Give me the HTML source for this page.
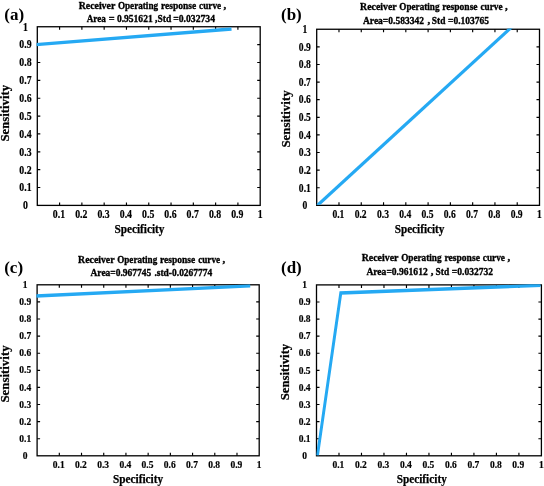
<!DOCTYPE html>
<html><head><meta charset="utf-8"><title>ROC curves</title>
<style>
html,body{margin:0;padding:0;background:#fff;}
body{width:544px;height:486px;overflow:hidden;position:relative;}
svg{position:absolute;left:0;top:0;display:block;}
text{font-family:"Liberation Serif","DejaVu Serif",serif;font-weight:bold;fill:#000;}
.tk{font-size:11.7px;text-anchor:middle;stroke:#000;stroke-width:0.2px;}
.ti{font-size:10.9px;stroke:#000;stroke-width:0.35px;}
.al{font-size:12.4px;stroke:#000;stroke-width:0.25px;}
.pl{font-size:17px;}
</style></head><body>
<svg width="544" height="486" viewBox="0 0 544 486">
<rect width="544" height="486" fill="#fff"/>

<g>
<clipPath id="ca"><rect x="36.6" y="27.35" width="223.6" height="178.05"/></clipPath>
<path d="M59.59 205.4v-3M59.59 26.75v3M37.3 187.53h3M260.2 187.53h-3M81.88 205.4v-3M81.88 26.75v3M37.3 169.67h3M260.2 169.67h-3M104.17 205.4v-3M104.17 26.75v3M37.3 151.81h3M260.2 151.81h-3M126.46 205.4v-3M126.46 26.75v3M37.3 133.94h3M260.2 133.94h-3M148.75 205.4v-3M148.75 26.75v3M37.3 116.08h3M260.2 116.08h-3M171.04 205.4v-3M171.04 26.75v3M37.3 98.21h3M260.2 98.21h-3M193.33 205.4v-3M193.33 26.75v3M37.3 80.35h3M260.2 80.35h-3M215.62 205.4v-3M215.62 26.75v3M37.3 62.48h3M260.2 62.48h-3M237.91 205.4v-3M237.91 26.75v3M37.3 44.61h3M260.2 44.61h-3" stroke="#000" stroke-width="1.15" fill="none"/>
<rect x="37.3" y="26.75" width="222.9" height="178.65" fill="none" stroke="#000" stroke-width="1.3"/>
<g clip-path="url(#ca)"><polyline transform="scale(0.87 1)" points="37.14,44.9 266.09,29" fill="none" stroke="#25a9f3" stroke-width="3.4" stroke-linejoin="miter"/></g>
<text class="tk" style="font-size:11.7px" transform="translate(25.45 209.25) scale(0.84 1)">0</text>
<text class="tk" style="font-size:11.7px" transform="translate(25.45 191.38) scale(0.84 1)">0.1</text>
<text class="tk" style="font-size:11.7px" transform="translate(25.45 173.52) scale(0.84 1)">0.2</text>
<text class="tk" style="font-size:11.7px" transform="translate(25.45 155.66) scale(0.84 1)">0.3</text>
<text class="tk" style="font-size:11.7px" transform="translate(25.45 137.79) scale(0.84 1)">0.4</text>
<text class="tk" style="font-size:11.7px" transform="translate(25.45 119.92) scale(0.84 1)">0.5</text>
<text class="tk" style="font-size:11.7px" transform="translate(25.45 102.06) scale(0.84 1)">0.6</text>
<text class="tk" style="font-size:11.7px" transform="translate(25.45 84.2) scale(0.84 1)">0.7</text>
<text class="tk" style="font-size:11.7px" transform="translate(25.45 66.33) scale(0.84 1)">0.8</text>
<text class="tk" style="font-size:11.7px" transform="translate(25.45 48.46) scale(0.84 1)">0.9</text>
<text class="tk" style="font-size:11.7px" transform="translate(25.45 30.6) scale(0.84 1)">1</text>
<text class="tk" style="font-size:11.7px" transform="translate(58.99 217.9) scale(0.84 1)">0.1</text>
<text class="tk" style="font-size:11.7px" transform="translate(81.28 217.9) scale(0.84 1)">0.2</text>
<text class="tk" style="font-size:11.7px" transform="translate(103.57 217.9) scale(0.84 1)">0.3</text>
<text class="tk" style="font-size:11.7px" transform="translate(125.86 217.9) scale(0.84 1)">0.4</text>
<text class="tk" style="font-size:11.7px" transform="translate(148.15 217.9) scale(0.84 1)">0.5</text>
<text class="tk" style="font-size:11.7px" transform="translate(170.44 217.9) scale(0.84 1)">0.6</text>
<text class="tk" style="font-size:11.7px" transform="translate(192.73 217.9) scale(0.84 1)">0.7</text>
<text class="tk" style="font-size:11.7px" transform="translate(215.02 217.9) scale(0.84 1)">0.8</text>
<text class="tk" style="font-size:11.7px" transform="translate(237.31 217.9) scale(0.84 1)">0.9</text>
<text class="tk" style="font-size:11.7px" transform="translate(260.1 217.9) scale(0.84 1)">1</text>
<text class="ti" y="8.65"><tspan x="78.7" textLength="36.4" lengthAdjust="spacingAndGlyphs">Receiver</tspan> <tspan x="117.9" textLength="40.2" lengthAdjust="spacingAndGlyphs">Operating</tspan> <tspan x="160.9" textLength="35.3" lengthAdjust="spacingAndGlyphs">response</tspan> <tspan x="199.1" textLength="22" lengthAdjust="spacingAndGlyphs">curve</tspan> <tspan x="223.6">,</tspan></text>
<text class="ti" y="21.5"><tspan x="86.7" textLength="19.2" lengthAdjust="spacingAndGlyphs">Area</tspan> <tspan x="108.7" textLength="5.9" lengthAdjust="spacingAndGlyphs">=</tspan> <tspan x="116.9" textLength="35.8" lengthAdjust="spacingAndGlyphs">0.951621</tspan> <tspan x="155" textLength="16.2" lengthAdjust="spacingAndGlyphs">,Std</tspan> <tspan x="173.2" textLength="41.8" lengthAdjust="spacingAndGlyphs">=0.032734</tspan></text>
<text class="pl" x="4.35" y="19.7">(a)</text>
<text class="al" x="114.4" y="233" textLength="50" lengthAdjust="spacingAndGlyphs">Specificity</text>
<text class="al" transform="translate(9.35 141.5) rotate(-90)" textLength="56.5" lengthAdjust="spacingAndGlyphs">Sensitivity</text>
</g>
<g>
<clipPath id="cb"><rect x="316.6" y="28.6" width="222.9" height="176.05"/></clipPath>
<path d="M338.98 205.35v-3M338.98 29.25v3M316.7 187.74h3M539.5 187.74h-3M361.26 205.35v-3M361.26 29.25v3M316.7 170.13h3M539.5 170.13h-3M383.54 205.35v-3M383.54 29.25v3M316.7 152.52h3M539.5 152.52h-3M405.82 205.35v-3M405.82 29.25v3M316.7 134.91h3M539.5 134.91h-3M428.1 205.35v-3M428.1 29.25v3M316.7 117.3h3M539.5 117.3h-3M450.38 205.35v-3M450.38 29.25v3M316.7 99.69h3M539.5 99.69h-3M472.66 205.35v-3M472.66 29.25v3M316.7 82.08h3M539.5 82.08h-3M494.94 205.35v-3M494.94 29.25v3M316.7 64.47h3M539.5 64.47h-3M517.22 205.35v-3M517.22 29.25v3M316.7 46.86h3M539.5 46.86h-3" stroke="#000" stroke-width="1.15" fill="none"/>
<rect x="316.7" y="29.25" width="222.8" height="176.1" fill="none" stroke="#000" stroke-width="1.3"/>
<g clip-path="url(#cb)"><polyline transform="scale(0.87 1)" points="360.71,208.73 589.64,25.87" fill="none" stroke="#25a9f3" stroke-width="3.4" stroke-linejoin="miter"/></g>
<text class="tk" style="font-size:11.5px" transform="translate(304.85 209.13) scale(0.835 1)">0</text>
<text class="tk" style="font-size:11.5px" transform="translate(304.85 191.52) scale(0.835 1)">0.1</text>
<text class="tk" style="font-size:11.5px" transform="translate(304.85 173.91) scale(0.835 1)">0.2</text>
<text class="tk" style="font-size:11.5px" transform="translate(304.85 156.3) scale(0.835 1)">0.3</text>
<text class="tk" style="font-size:11.5px" transform="translate(304.85 138.69) scale(0.835 1)">0.4</text>
<text class="tk" style="font-size:11.5px" transform="translate(304.85 121.08) scale(0.835 1)">0.5</text>
<text class="tk" style="font-size:11.5px" transform="translate(304.85 103.47) scale(0.835 1)">0.6</text>
<text class="tk" style="font-size:11.5px" transform="translate(304.85 85.86) scale(0.835 1)">0.7</text>
<text class="tk" style="font-size:11.5px" transform="translate(304.85 68.25) scale(0.835 1)">0.8</text>
<text class="tk" style="font-size:11.5px" transform="translate(304.85 50.64) scale(0.835 1)">0.9</text>
<text class="tk" style="font-size:11.5px" transform="translate(304.85 33.03) scale(0.835 1)">1</text>
<text class="tk" style="font-size:11.5px" transform="translate(338.38 217.85) scale(0.835 1)">0.1</text>
<text class="tk" style="font-size:11.5px" transform="translate(360.66 217.85) scale(0.835 1)">0.2</text>
<text class="tk" style="font-size:11.5px" transform="translate(382.94 217.85) scale(0.835 1)">0.3</text>
<text class="tk" style="font-size:11.5px" transform="translate(405.22 217.85) scale(0.835 1)">0.4</text>
<text class="tk" style="font-size:11.5px" transform="translate(427.5 217.85) scale(0.835 1)">0.5</text>
<text class="tk" style="font-size:11.5px" transform="translate(449.78 217.85) scale(0.835 1)">0.6</text>
<text class="tk" style="font-size:11.5px" transform="translate(472.06 217.85) scale(0.835 1)">0.7</text>
<text class="tk" style="font-size:11.5px" transform="translate(494.34 217.85) scale(0.835 1)">0.8</text>
<text class="tk" style="font-size:11.5px" transform="translate(516.62 217.85) scale(0.835 1)">0.9</text>
<text class="tk" style="font-size:11.5px" transform="translate(539.4 217.85) scale(0.835 1)">1</text>
<text class="ti" y="9.6"><tspan x="360.1" textLength="36.4" lengthAdjust="spacingAndGlyphs">Receiver</tspan> <tspan x="399.3" textLength="40.2" lengthAdjust="spacingAndGlyphs">Operating</tspan> <tspan x="442.3" textLength="35.3" lengthAdjust="spacingAndGlyphs">response</tspan> <tspan x="480.5" textLength="22" lengthAdjust="spacingAndGlyphs">curve</tspan> <tspan x="505">,</tspan></text>
<text class="ti" y="23.8"><tspan x="363" textLength="60.9" lengthAdjust="spacingAndGlyphs">Area=0.583342</tspan> <tspan x="427.6">,</tspan> <tspan x="431.8" textLength="13.6" lengthAdjust="spacingAndGlyphs">Std</tspan> <tspan x="448" textLength="41" lengthAdjust="spacingAndGlyphs">=0.103765</tspan></text>
<text class="pl" x="281" y="19.7">(b)</text>
<text class="al" x="394.7" y="233" textLength="49.7" lengthAdjust="spacingAndGlyphs">Specificity</text>
<text class="al" transform="translate(289.6 147.6) rotate(-90)" textLength="57.2" lengthAdjust="spacingAndGlyphs">Sensitivity</text>
</g>
<g>
<clipPath id="cc"><rect x="36.4" y="284.15" width="222.8" height="171.65"/></clipPath>
<path d="M59.31 455.8v-3M59.31 284.8v3M37.1 438.7h3M259.2 438.7h-3M81.52 455.8v-3M81.52 284.8v3M37.1 421.6h3M259.2 421.6h-3M103.73 455.8v-3M103.73 284.8v3M37.1 404.5h3M259.2 404.5h-3M125.94 455.8v-3M125.94 284.8v3M37.1 387.4h3M259.2 387.4h-3M148.15 455.8v-3M148.15 284.8v3M37.1 370.3h3M259.2 370.3h-3M170.36 455.8v-3M170.36 284.8v3M37.1 353.2h3M259.2 353.2h-3M192.57 455.8v-3M192.57 284.8v3M37.1 336.1h3M259.2 336.1h-3M214.78 455.8v-3M214.78 284.8v3M37.1 319h3M259.2 319h-3M236.99 455.8v-3M236.99 284.8v3M37.1 301.9h3M259.2 301.9h-3" stroke="#000" stroke-width="1.15" fill="none"/>
<rect x="37.1" y="284.8" width="222.1" height="171" fill="none" stroke="#000" stroke-width="1.3"/>
<g clip-path="url(#cc)"><polyline transform="scale(0.87 1)" points="36.9,296.13 287.59,285.9" fill="none" stroke="#25a9f3" stroke-width="3.4" stroke-linejoin="miter"/></g>
<text class="tk" style="font-size:11.2px" transform="translate(25.25 458.99) scale(0.85 1)">0</text>
<text class="tk" style="font-size:11.2px" transform="translate(25.25 441.89) scale(0.85 1)">0.1</text>
<text class="tk" style="font-size:11.2px" transform="translate(25.25 424.79) scale(0.85 1)">0.2</text>
<text class="tk" style="font-size:11.2px" transform="translate(25.25 407.69) scale(0.85 1)">0.3</text>
<text class="tk" style="font-size:11.2px" transform="translate(25.25 390.59) scale(0.85 1)">0.4</text>
<text class="tk" style="font-size:11.2px" transform="translate(25.25 373.49) scale(0.85 1)">0.5</text>
<text class="tk" style="font-size:11.2px" transform="translate(25.25 356.39) scale(0.85 1)">0.6</text>
<text class="tk" style="font-size:11.2px" transform="translate(25.25 339.29) scale(0.85 1)">0.7</text>
<text class="tk" style="font-size:11.2px" transform="translate(25.25 322.19) scale(0.85 1)">0.8</text>
<text class="tk" style="font-size:11.2px" transform="translate(25.25 305.09) scale(0.85 1)">0.9</text>
<text class="tk" style="font-size:11.2px" transform="translate(25.25 287.99) scale(0.85 1)">1</text>
<text class="tk" style="font-size:11.2px" transform="translate(58.71 467.7) scale(0.85 1)">0.1</text>
<text class="tk" style="font-size:11.2px" transform="translate(80.92 467.7) scale(0.85 1)">0.2</text>
<text class="tk" style="font-size:11.2px" transform="translate(103.13 467.7) scale(0.85 1)">0.3</text>
<text class="tk" style="font-size:11.2px" transform="translate(125.34 467.7) scale(0.85 1)">0.4</text>
<text class="tk" style="font-size:11.2px" transform="translate(147.55 467.7) scale(0.85 1)">0.5</text>
<text class="tk" style="font-size:11.2px" transform="translate(169.76 467.7) scale(0.85 1)">0.6</text>
<text class="tk" style="font-size:11.2px" transform="translate(191.97 467.7) scale(0.85 1)">0.7</text>
<text class="tk" style="font-size:11.2px" transform="translate(214.18 467.7) scale(0.85 1)">0.8</text>
<text class="tk" style="font-size:11.2px" transform="translate(236.39 467.7) scale(0.85 1)">0.9</text>
<text class="tk" style="font-size:11.2px" transform="translate(259.1 467.7) scale(0.85 1)">1</text>
<text class="ti" y="262.75"><tspan x="78.1" textLength="36.29" lengthAdjust="spacingAndGlyphs">Receiver</tspan> <tspan x="117.18" textLength="40.08" lengthAdjust="spacingAndGlyphs">Operating</tspan> <tspan x="160.05" textLength="35.2" lengthAdjust="spacingAndGlyphs">response</tspan> <tspan x="198.14" textLength="21.94" lengthAdjust="spacingAndGlyphs">curve</tspan> <tspan x="222.57">,</tspan></text>
<text class="ti" y="276.2"><tspan x="90.5" textLength="60.8" lengthAdjust="spacingAndGlyphs">Area=0.967745</tspan> <tspan x="154.4" textLength="57.9" lengthAdjust="spacingAndGlyphs">.std-0.0267774</tspan></text>
<text class="pl" x="4.2" y="273.2">(c)</text>
<text class="al" x="113" y="482.8" textLength="50.1" lengthAdjust="spacingAndGlyphs">Specificity</text>
<text class="al" transform="translate(9.2 402.6) rotate(-90)" textLength="57.2" lengthAdjust="spacingAndGlyphs">Sensitivity</text>
</g>
<g>
<clipPath id="cd"><rect x="316.3" y="284.25" width="224.2" height="170.95"/></clipPath>
<path d="M338.99 455.8v-3M338.99 284.9v3M316.5 438.71h3M541.4 438.71h-3M361.48 455.8v-3M361.48 284.9v3M316.5 421.62h3M541.4 421.62h-3M383.97 455.8v-3M383.97 284.9v3M316.5 404.53h3M541.4 404.53h-3M406.46 455.8v-3M406.46 284.9v3M316.5 387.44h3M541.4 387.44h-3M428.95 455.8v-3M428.95 284.9v3M316.5 370.35h3M541.4 370.35h-3M451.44 455.8v-3M451.44 284.9v3M316.5 353.26h3M541.4 353.26h-3M473.93 455.8v-3M473.93 284.9v3M316.5 336.17h3M541.4 336.17h-3M496.42 455.8v-3M496.42 284.9v3M316.5 319.08h3M541.4 319.08h-3M518.91 455.8v-3M518.91 284.9v3M316.5 301.99h3M541.4 301.99h-3" stroke="#000" stroke-width="1.15" fill="none"/>
<rect x="316.5" y="284.9" width="224.9" height="170.9" fill="none" stroke="#000" stroke-width="1.3"/>
<g clip-path="url(#cd)"><polyline transform="scale(0.87 1)" points="364.01,460.75 391.72,293 628.04,285.11" fill="none" stroke="#25a9f3" stroke-width="3.4" stroke-linejoin="miter"/></g>
<text class="tk" style="font-size:11.2px" transform="translate(304.65 458.99) scale(0.85 1)">0</text>
<text class="tk" style="font-size:11.2px" transform="translate(304.65 441.9) scale(0.85 1)">0.1</text>
<text class="tk" style="font-size:11.2px" transform="translate(304.65 424.81) scale(0.85 1)">0.2</text>
<text class="tk" style="font-size:11.2px" transform="translate(304.65 407.72) scale(0.85 1)">0.3</text>
<text class="tk" style="font-size:11.2px" transform="translate(304.65 390.63) scale(0.85 1)">0.4</text>
<text class="tk" style="font-size:11.2px" transform="translate(304.65 373.54) scale(0.85 1)">0.5</text>
<text class="tk" style="font-size:11.2px" transform="translate(304.65 356.45) scale(0.85 1)">0.6</text>
<text class="tk" style="font-size:11.2px" transform="translate(304.65 339.36) scale(0.85 1)">0.7</text>
<text class="tk" style="font-size:11.2px" transform="translate(304.65 322.27) scale(0.85 1)">0.8</text>
<text class="tk" style="font-size:11.2px" transform="translate(304.65 305.18) scale(0.85 1)">0.9</text>
<text class="tk" style="font-size:11.2px" transform="translate(304.65 288.09) scale(0.85 1)">1</text>
<text class="tk" style="font-size:11.2px" transform="translate(338.39 467.7) scale(0.85 1)">0.1</text>
<text class="tk" style="font-size:11.2px" transform="translate(360.88 467.7) scale(0.85 1)">0.2</text>
<text class="tk" style="font-size:11.2px" transform="translate(383.37 467.7) scale(0.85 1)">0.3</text>
<text class="tk" style="font-size:11.2px" transform="translate(405.86 467.7) scale(0.85 1)">0.4</text>
<text class="tk" style="font-size:11.2px" transform="translate(428.35 467.7) scale(0.85 1)">0.5</text>
<text class="tk" style="font-size:11.2px" transform="translate(450.84 467.7) scale(0.85 1)">0.6</text>
<text class="tk" style="font-size:11.2px" transform="translate(473.33 467.7) scale(0.85 1)">0.7</text>
<text class="tk" style="font-size:11.2px" transform="translate(495.82 467.7) scale(0.85 1)">0.8</text>
<text class="tk" style="font-size:11.2px" transform="translate(518.31 467.7) scale(0.85 1)">0.9</text>
<text class="tk" style="font-size:11.2px" transform="translate(541.3 467.7) scale(0.85 1)">1</text>
<text class="ti" y="260.7"><tspan x="361.7" textLength="36.62" lengthAdjust="spacingAndGlyphs">Receiver</tspan> <tspan x="401.14" textLength="40.44" lengthAdjust="spacingAndGlyphs">Operating</tspan> <tspan x="444.39" textLength="35.51" lengthAdjust="spacingAndGlyphs">response</tspan> <tspan x="482.82" textLength="22.13" lengthAdjust="spacingAndGlyphs">curve</tspan> <tspan x="507.47">,</tspan></text>
<text class="ti" y="275"><tspan x="366.4" textLength="61.3" lengthAdjust="spacingAndGlyphs">Area=0.961612</tspan> <tspan x="430.7">,</tspan> <tspan x="435.6" textLength="13.6" lengthAdjust="spacingAndGlyphs">Std</tspan> <tspan x="451.8" textLength="41.3" lengthAdjust="spacingAndGlyphs">=0.032732</tspan></text>
<text class="pl" x="281" y="273">(d)</text>
<text class="al" x="396.7" y="482.8" textLength="50.1" lengthAdjust="spacingAndGlyphs">Specificity</text>
<text class="al" transform="translate(289 400.2) rotate(-90)" textLength="56.4" lengthAdjust="spacingAndGlyphs">Sensitivity</text>
</g>
</svg></body></html>
